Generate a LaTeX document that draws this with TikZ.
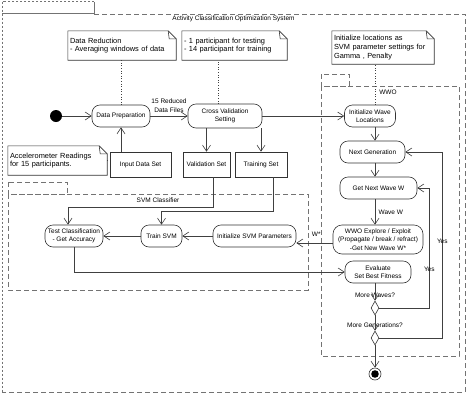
\documentclass[tikz,border=0pt]{standalone}
\usepackage{fontspec}
\setmainfont{Liberation Sans}
\usetikzlibrary{arrows.meta,shapes.geometric}

\newcommand\notefold[1]{%
  \draw[notebox] (#1.south west) -- (#1.north west) -- ([xshift=-8pt]#1.north east)
    -- ([yshift=-8pt]#1.north east) -- (#1.south east) -- cycle;
  \draw[notebox] ([xshift=-8pt]#1.north east) -- ([xshift=-7pt,yshift=-8pt]#1.north east) -- ([yshift=-8pt]#1.north east);}

\begin{document}
\begin{tikzpicture}[x=1pt,y=-1pt,font=\fontsize{6.5}{8.6}\selectfont,
act/.style={draw=black!80,line width=0.6pt,rounded corners=8pt,align=center,inner sep=1pt,minimum height=22pt},
obj/.style={draw=black!80,line width=0.6pt,align=center,inner sep=1pt,minimum height=25pt},
note/.style={align=left,inner sep=2pt,font=\fontsize{7.4}{8.6}\selectfont},
notebox/.style={draw=black!80,line width=0.6pt},
zone/.style={draw=black!55,line width=0.7pt,dash pattern=on 5pt off 3pt},
flow/.style={draw=black!75,line width=0.6pt,-{Straight Barb[length=6pt,width=8pt]}},
link/.style={draw=black!75,line width=0.6pt,dotted},
choice/.style={diamond,draw=black!80,line width=0.6pt,minimum width=8pt,minimum height=14pt,inner sep=0pt,label distance=3pt},
startdot/.style={circle,fill=black,minimum size=12pt,inner sep=0pt},
enddot/.style={circle,draw=black!80,line width=0.6pt,minimum size=12pt,inner sep=0pt,
  path picture={\fill (path picture bounding box.center) circle (3.8pt);}}]
\useasboundingbox (0,0) rectangle (474,402);
\draw[zone,dash pattern=on 2.5pt off 1.5pt,line width=1pt] (94,1.5) -- (2,1.5) -- (2,392);
\draw[black!55,line width=0.6pt] (2,13.5) -- (94,13.5) -- (94,1.5);
\draw[zone] (94,14) -- (465,14) -- (465,392) -- (2,392);
\node (title) at (233.5,19) {Activity Classification Optimization System};
\draw[zone] (8,182) rectangle (67,194);
\draw[zone] (8,194) rectangle (308,290);
\node (svmname) at (158,200) {SVM Classifier};
\draw[zone] (321,74) rectangle (349,86);
\draw[zone] (321,86) rectangle (459,356);
\node (wwoname) at (388,92) {WWO};
\node[note,text width=104pt,minimum height=29pt] (reduce) at (122,45.5) {Data Reduction\\- Averaging windows of data};
\node[note,text width=101pt,minimum height=29pt] (split) at (234.5,45.5) {- 1 participant for testing\\- 14 participant for training};
\node[note,text width=98pt,minimum height=33pt] (locs) at (383,47.5) {Initialize locations as\\SVM parameter settings for\\Gamma , Penalty};
\node[note,text width=95pt,minimum height=29pt] (readings) at (57.5,160.5) {Accelerometer Readings\\for 15 participants.};
\notefold{reduce}\notefold{split}\notefold{locs}\notefold{readings}
\coordinate (spine) at (375,0);
\node[startdot] (start) at (56,116) {};
\node[act,minimum width=58pt] (prep) at (121,116) {Data Preparation};
\node[act,minimum width=74pt,minimum height=24pt] (cross) at (225,116) {Cross Validation\\Setting};
\node[act,minimum width=51pt] (initw) at (370,116) {Initialize Wave\\Locations};
\node[obj,minimum width=61pt] (input) at (140.5,164.5) {Input Data Set};
\node[obj,minimum width=47pt] (valid) at (206.5,164.5) {Validation Set};
\node[obj,minimum width=52pt] (train) at (261,164.5) {Training Set};
\node[act,minimum width=65pt] (nextg) at (372.5,152) {Next Generation};
\node[act,minimum width=77pt] (getw) at (378.5,188) {Get Next Wave W};
\node[act,minimum width=90pt,minimum height=29pt,rounded corners=9pt] (explore) at (378,239.5) {WWO Explore / Exploit\\(Propagate / break / refract)\\-Get New Wave W*};
\node[act,minimum width=66pt] (eval) at (378,272) {Evaluate\\Set Best Fitness};
\node[choice,label=above:More Waves?] (waves) at (375,308) {};
\node[choice,label=above:More Generations?] (gens) at (375,338) {};
\node[enddot] (stop) at (375,374) {};
\node[act,minimum width=58pt] (test) at (74,236) {Test Classification\\- Get Accuracy};
\node[act,minimum width=41pt] (svm) at (161.5,236) {Train SVM};
\node[act,minimum width=83pt] (initp) at (254.5,236) {Initialize SVM Parameters};
\draw[flow] (start) -- (prep);
\draw[flow] (prep) -- node[above,align=center]{15 Reduced\\Data Files} (cross);
\draw[flow] (cross) -- (initw);
\draw[flow] (input.north -| prep) -- (prep);
\draw[flow] (cross.south -| valid) -- (valid);
\draw[flow] (cross.south -| train) -- (train);
\draw[link] (reduce.south -| prep) -- (prep);
\draw[link] ([xshift=-7pt]cross.north) -- ([xshift=-7pt]cross.north |- split.south);
\draw[link] ([xshift=5pt]initw.north) -- ([xshift=5pt]initw.north |- locs.south);
\draw[link] (readings.east) -- (readings.east -| input.west);
\draw[flow] (spine |- initw.south) -- (spine |- nextg.north);
\draw[flow] (spine |- nextg.south) -- (spine |- getw.north);
\draw[flow] (spine |- getw.south) -- node[right]{Wave W} (spine |- explore.north);
\draw[flow] (spine |- eval.south) -- (waves);
\draw[flow] (waves) -- (gens);
\draw[flow] (gens) -- (stop);
\draw[flow] (waves.east) -- ++(50,0) |- node[pos=0.16]{Yes} (getw.east);
\draw[flow] (gens.east) -- ++(63,0) |- node[pos=0.26]{Yes} (nextg.east);
\draw[flow] ([yshift=-3.5pt]explore.west) -- node[above=3pt,pos=0.45]{W*} ([yshift=-3.5pt]explore.west -| initp.east);
\draw[flow] (initp) -- (svm);
\draw[flow] (svm) -- (test);
\draw[flow] ([xshift=7pt]valid.south) -- ++(0,30) -| ([xshift=-6pt]test.north);
\draw[flow] ([xshift=12pt]train.south) -- ++(0,34) -| (svm);
\draw[flow] (test) |- (eval);
\end{tikzpicture}
\end{document}
